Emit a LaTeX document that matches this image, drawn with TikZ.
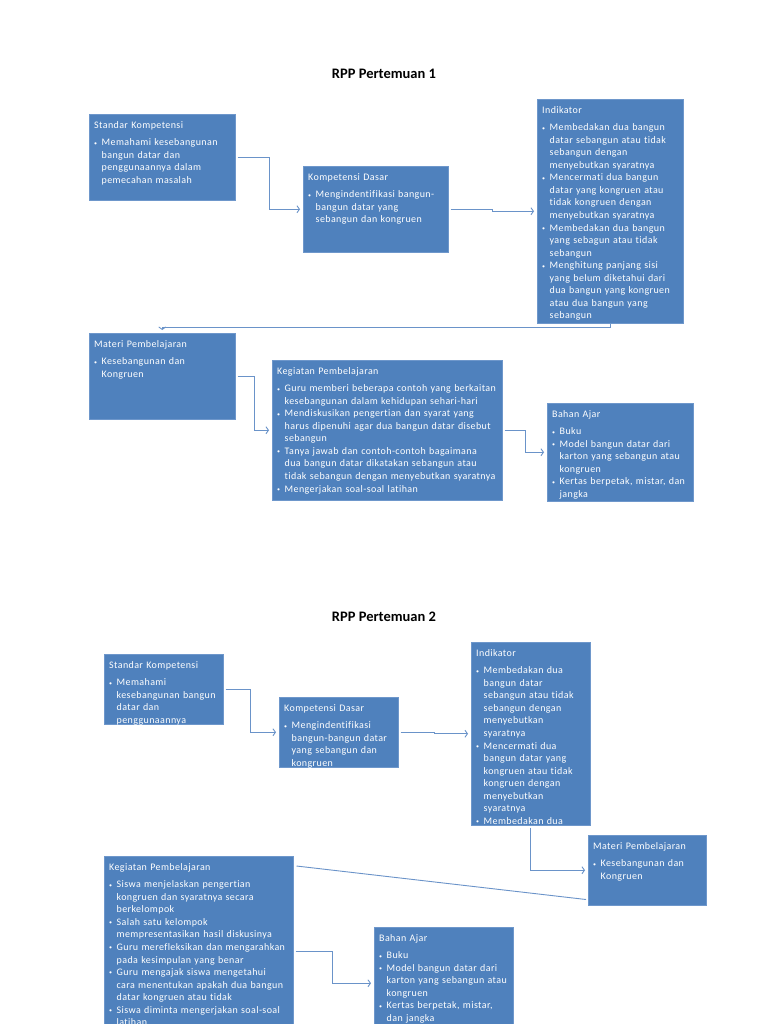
\documentclass[tikz,border=0pt]{standalone}
\usepackage{fontspec}
\setmainfont{Carlito}
\newfontfamily\boxfam{Carlito}[LetterSpace=4,Ligatures={NoCommon}]
\usetikzlibrary{arrows.meta,calc}
\definecolor{boxblue}{HTML}{4F81BD}
\definecolor{boxedge}{HTML}{6E97CB}
\definecolor{lineblue}{HTML}{6A93C9}
\newcommand\boxfont{\boxfam\fontsize{10}{12.55}\selectfont}
\newcommand\hd[1]{\noindent #1\par\vspace{4.5pt}}
\newcommand\bi[1]{\par\noindent\hangindent=7.5pt\hangafter=1\let\\\newline\makebox[7.5pt][l]{\raisebox{0.6pt}{\fontsize{6}{6}\selectfont •}}#1\par}
\newcommand\mkbox[6]{%
  \node[box, minimum width={(#4-#2)*1pt}, minimum height={(#5-#3)*1pt}] (#1) at (#2,#3) {};
  \node[txt, text width={(#4-#2+20)*1pt}] (#1t) at ($(#1.north west)+(5,7.5)$) {#6};}
\tikzset{
  box/.style={rectangle, fill=boxblue, draw=boxedge, line width=0.5pt, inner sep=0pt, anchor=north west},
  txt/.style={anchor=north west, inner sep=0pt, text=white, align=left, font=\boxfont},
  conn/.style={draw=lineblue, line width=0.9pt, shorten >=3pt, shorten <=2pt, -{Straight Barb[length=2.5pt,width=7pt]}},
  plain/.style={draw=lineblue, line width=0.9pt},
  ttl/.style={font=\bfseries\fontsize{14.5}{16}\selectfont, text=black}
}
\begin{document}
\begin{tikzpicture}[x=1pt,y=-1pt]
\useasboundingbox[fill=white] (0,0) rectangle (768,1024);
\clip (0,0) rectangle (768,1024);
% ---------------- Pertemuan 1 ----------------
\node[ttl] (t1) at (384,74) {RPP Pertemuan 1};
\mkbox{sk}{89}{114}{235}{200}{\hd{Standar Kompetensi}\bi{Memahami kesebangunan\\bangun datar dan\\penggunaannya dalam\\pemecahan masalah}}
\mkbox{kd}{303}{166}{448}{252}{\hd{Kompetensi Dasar}\bi{Mengindentifikasi bangun-\\bangun datar yang\\sebangun dan kongruen}}
\mkbox{ind}{537}{99}{683}{323}{\hd{Indikator}%
\bi{Membedakan dua bangun\\datar sebangun atau tidak\\sebangun dengan\\menyebutkan syaratnya}%
\bi{Mencermati dua bangun\\datar yang kongruen atau\\tidak kongruen dengan\\menyebutkan syaratnya}%
\bi{Membedakan dua bangun\\yang sebagun atau tidak\\sebangun}%
\bi{Menghitung panjang sisi\\yang belum diketahui dari\\dua bangun yang kongruen\\atau dua bangun yang\\sebangun}}
\mkbox{mat}{89}{333}{235}{419}{\hd{Materi Pembelajaran}\bi{Kesebangunan dan\\Kongruen}}
\mkbox{keg}{272}{360}{502}{500}{\hd{Kegiatan Pembelajaran}%
\bi{Guru memberi beberapa contoh yang berkaitan\\kesebangunan dalam kehidupan sehari-hari}%
\bi{Mendiskusikan pengertian dan syarat yang\\harus dipenuhi agar dua bangun datar disebut\\sebangun}%
\bi{Tanya jawab dan contoh-contoh bagaimana\\dua bangun datar dikatakan sebangun atau\\tidak sebangun dengan menyebutkan syaratnya}%
\bi{Mengerjakan soal-soal latihan}}
\mkbox{ba}{547}{403}{693}{501}{\hd{Bahan Ajar}%
\bi{Buku}%
\bi{Model bangun datar dari\\karton yang sebangun atau\\kongruen}%
\bi{Kertas berpetak, mistar, dan\\jangka}}
\draw[conn] (sk.east) -- ++(34,0) |- (kd.west);
\draw[conn] (kd.east) -- ++(44,0) |- (ind.west);
\draw[conn, shorten <=0pt] (ind.south) -- ++(0,4) -| (mat.north);
\draw[conn] (mat.east) -- ++(19,0) |- (keg.west);
\draw[conn] (keg.east) -- ++(23,0) |- (ba.west);
% ---------------- Pertemuan 2 ----------------
\node[ttl] (t2) at (384,617) {RPP Pertemuan 2};
\mkbox{skb}{104}{654}{223}{724}{\hd{Standar Kompetensi}\bi{Memahami\\kesebangunan bangun\\datar dan\\penggunaannya}}
\mkbox{kdb}{279}{697}{398}{767}{\hd{Kompetensi Dasar}\bi{Mengindentifikasi\\bangun-bangun datar\\yang sebangun dan\\kongruen}}
\mkbox{indb}{471}{642}{590}{825}{\hd{Indikator}%
\bi{Membedakan dua\\bangun datar\\sebangun atau tidak\\sebangun dengan\\menyebutkan\\syaratnya}%
\bi{Mencermati dua\\bangun datar yang\\kongruen atau tidak\\kongruen dengan\\menyebutkan\\syaratnya}%
\bi{Membedakan dua}}
\mkbox{matb}{588}{835}{706}{905}{\hd{Materi Pembelajaran}\bi{Kesebangunan dan\\Kongruen}}
\mkbox{kegb}{104}{856}{293}{1046}{\hd{Kegiatan Pembelajaran}%
\bi{Siswa menjelaskan pengertian\\kongruen dan syaratnya secara\\berkelompok}%
\bi{Salah satu kelompok\\mempresentasikan hasil diskusinya}%
\bi{Guru merefleksikan dan mengarahkan\\pada kesimpulan yang benar}%
\bi{Guru mengajak siswa mengetahui\\cara menentukan apakah dua bangun\\datar kongruen atau tidak}%
\bi{Siswa diminta mengerjakan soal-soal\\latihan}}
\mkbox{bab}{374}{927}{513}{1039}{\hd{Bahan Ajar}%
\bi{Buku}%
\bi{Model bangun datar dari\\karton yang sebangun atau\\kongruen}%
\bi{Kertas berpetak, mistar,\\dan jangka}}
\draw[conn] (skb.east) -- ++(27,0) |- (kdb.west);
\draw[conn] (kdb.east) -- ++(36,0) |- (indb.west);
\draw[conn] (indb.south) |- (matb.west);
\draw[plain] ($(matb.south west)+(-2,-6)$) -- ($(kegb.north east)+(3,10)$);
\draw[conn] (kegb.east) -- ++(39,0) |- (bab.west);
\end{tikzpicture}
\end{document}
